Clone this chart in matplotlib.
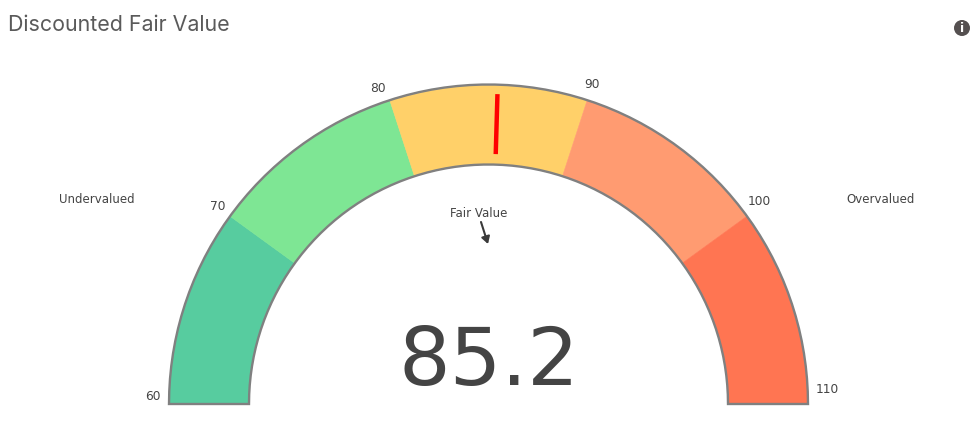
import numpy as np
import matplotlib
matplotlib.use("Agg")
import matplotlib.pyplot as plt
from matplotlib.patches import Polygon, Circle

title = "Discounted Fair Value"
value_text = "85.2"
threshold = 85.46
range_min, range_max = 60, 110
steps = [60, 70, 80, 90, 100, 110]
step_colors = ["#57CC9F", "#7EE694", "#FFD069", "#FF9B71", "#FF7552"]
tick_values = [60, 70, 80, 90, 100, 110]
tick_labels = ["60", "70", "80", "90", "100", "110"]
tick_px = [(153, 396), (218, 206), (378, 88), (592, 85), (759, 201), (827, 389)]

plt.rcParams['font.family'] = ['DejaVu Sans']
fig = plt.figure(figsize=(9.76, 4.36), dpi=100)
ax = fig.add_axes([0, 0, 1, 1])
ax.set_xlim(0, 976)
ax.set_ylim(436, 0)
ax.axis('off')

cx, cy = 488.5, 404
r_out, r_in = 319.5, 239.5


def angle(v):
    return np.pi * (1 - (v - range_min) / (range_max - range_min))


def pt(v, r):
    a = angle(v)
    return cx + r * np.cos(a), cy - r * np.sin(a)


def band(v0, v1):
    vs = np.linspace(v0, v1, 80)
    outer = [pt(v, r_out) for v in vs]
    inner = [pt(v, r_in) for v in vs[::-1]]
    return outer + inner


for i, c in enumerate(step_colors):
    ax.add_patch(Polygon(band(steps[i], steps[i + 1]), closed=True, fc=c, ec=c, lw=0.4, zorder=2))
ax.add_patch(Polygon(band(range_min, range_max), closed=True, fc='none', ec='#808080', lw=1.7,
                     joinstyle='miter', zorder=3))

x0, y0 = pt(threshold, 250)
x1, y1 = pt(threshold, 310)
ax.plot([x0, x1], [y0, y1], color='#FF0000', lw=3.2, solid_capstyle='butt', zorder=4)

for lab, (x, y) in zip(tick_labels, tick_px):
    ax.text(x, y, lab, ha='center', va='center', fontsize=8.8, color='#444444')

ax.text(8, 25, title, ha='left', va='center', fontsize=15.4, color='#5a5a5a', family=['Inter'])
ax.text(96.5, 199, "Undervalued", ha='center', va='center', fontsize=8.5, color='#444444')
ax.text(880.5, 199, "Overvalued", ha='center', va='center', fontsize=8.5, color='#444444')
ax.text(479, 213, "Fair Value", ha='center', va='center', fontsize=8.5, color='#444444')
ax.annotate("", xy=(488, 244), xytext=(481, 222),
            arrowprops=dict(arrowstyle='-|>,head_width=0.25,head_length=0.42', color='#3a3a3a', lw=1.5,
                            shrinkA=0, shrinkB=0))
ax.text(488.5, 363, value_text, ha='center', va='center', fontsize=58.5, color='#444444')

ax.add_patch(Circle((962, 28), 8, fc='#555050', ec='none'))
ax.text(962, 28, "i", ha='center', va='center', fontsize=9, fontweight='bold', color='white')

fig.savefig("out.png", dpi=100)
